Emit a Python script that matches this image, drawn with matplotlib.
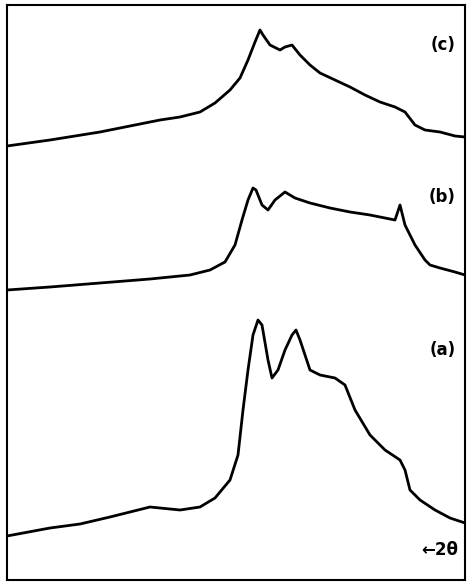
import matplotlib
matplotlib.use("Agg")
import matplotlib.pyplot as plt

xc = [7,50,100,130,160,180,200,215,230,240,248,255,260,263,270,280,285,292,300,310,320,335,350,365,380,395,405,415,425,440,455,465]
yc = [146,140,132,126,120,117,112,103,90,78,60,42,30,35,45,50,47,45,55,65,73,80,87,95,102,107,112,125,130,132,136,137]
xb = [7,50,100,150,190,210,225,235,242,248,253,256,262,268,275,285,295,310,330,350,370,385,395,400,405,415,425,430,440,455,465]
yb = [290,287,283,279,275,270,262,245,220,200,188,190,205,210,200,192,198,203,208,212,215,218,220,205,225,245,260,265,268,272,275]
xa = [7,50,80,110,130,150,180,200,215,230,238,243,248,253,258,262,268,272,278,285,292,296,300,310,320,335,345,355,370,385,400,405,410,420,435,450,465]
ya = [536,528,524,517,512,507,510,507,498,480,455,410,370,335,320,325,360,378,370,350,335,330,340,370,375,378,385,410,435,450,460,470,490,500,510,518,523]
labels = ["(c)", "(b)", "(a)"]
label_pos = [(456, 45), (456, 197), (456, 350)]

fig = plt.figure(figsize=(4.74, 5.88), dpi=100)
ax = fig.add_axes([7/474, 1-580/588, (465-7)/474, (580-5)/588])
ax.set_xlim(7, 465)
ax.set_ylim(580, 5)
for x, y in [(xc, yc), (xb, yb), (xa, ya)]:
    ax.plot(x, y, color="black", lw=2)
for t, (px, py) in zip(labels, label_pos):
    ax.text(px, py, t, ha="right", va="center", fontsize=12, fontweight="bold")
ax.text(458, 550, "←2θ", ha="right", va="center", fontsize=12, fontweight="bold")
ax.set_xticks([]); ax.set_yticks([])
for s in ax.spines.values():
    s.set_linewidth(1.5)
fig.savefig("out.png", dpi=100)
